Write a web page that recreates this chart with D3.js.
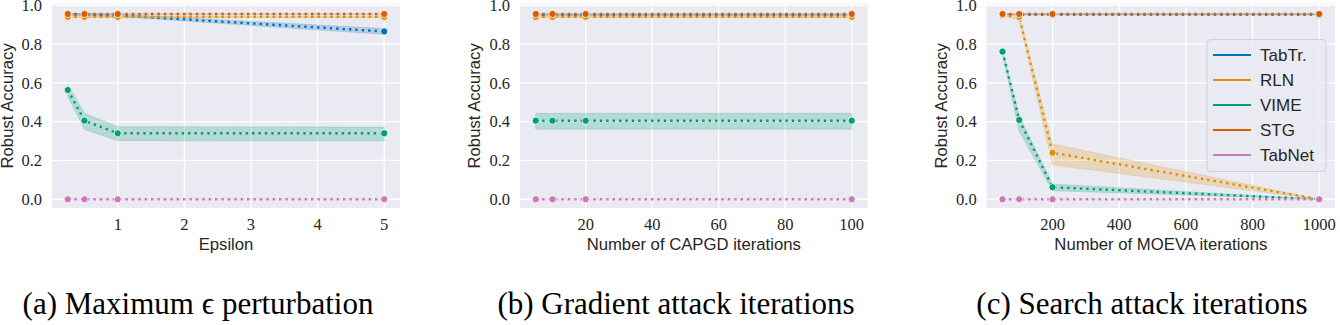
<!DOCTYPE html>
<html>
<head>
<meta charset="utf-8">
<script src="https://cdn.jsdelivr.net/npm/d3@7"></script>
<style>
  body { margin: 0; background: #fff; }
  .tick-label { font-family: "Liberation Serif", serif; font-size: 16.5px; fill: #262626; }
  .axis-label { font-family: "Liberation Sans", sans-serif; font-size: 16.7px; fill: #262626; }
  .caption { font-family: "Liberation Serif", serif; font-size: 31px; fill: #000; }
  .legend-text { font-family: "Liberation Sans", sans-serif; font-size: 17px; fill: #262626; }
</style>
</head>
<body>
<script>
// models and colours (seaborn colorblind)
var models = ["TabTr.", "RLN", "VIME", "STG", "TabNet"];
var colors = ["#0173b2", "#de8f05", "#029e73", "#d55e00", "#cc78bc"];

var yTicks = [0, 0.2, 0.4, 0.6, 0.8, 1.0];

// (a) epsilon
var epsX = [0.25, 0.5, 1, 5];
var epsTicks = [1, 2, 3, 4, 5];
var epsMean = [
  [0.953, 0.952, 0.948, 0.865],
  [0.940, 0.940, 0.940, 0.940],
  [0.563, 0.405, 0.340, 0.340],
  [0.955, 0.955, 0.955, 0.955],
  [0.0, 0.0, 0.0, 0.0]
];
var epsLow = [
  [0.948, 0.946, 0.942, 0.850],
  [0.936, 0.936, 0.936, 0.936],
  [0.530, 0.360, 0.303, 0.300],
  [0.953, 0.953, 0.953, 0.953],
  [0.0, 0.0, 0.0, 0.0]
];
var epsHigh = [
  [0.958, 0.957, 0.954, 0.880],
  [0.944, 0.944, 0.944, 0.944],
  [0.590, 0.443, 0.374, 0.372],
  [0.957, 0.957, 0.957, 0.957],
  [0.0, 0.0, 0.0, 0.0]
];

// (b) CAPGD iterations
var capX = [5, 10, 20, 100];
var capTicks = [20, 40, 60, 80, 100];
var capMean = [
  [0.950, 0.950, 0.950, 0.950],
  [0.940, 0.940, 0.940, 0.940],
  [0.405, 0.405, 0.405, 0.405],
  [0.955, 0.955, 0.955, 0.955],
  [0.0, 0.0, 0.0, 0.0]
];
var capLow = [
  [0.946, 0.946, 0.946, 0.946],
  [0.936, 0.936, 0.936, 0.936],
  [0.361, 0.361, 0.361, 0.361],
  [0.953, 0.953, 0.953, 0.953],
  [0.0, 0.0, 0.0, 0.0]
];
var capHigh = [
  [0.954, 0.954, 0.954, 0.954],
  [0.944, 0.944, 0.944, 0.944],
  [0.443, 0.443, 0.443, 0.443],
  [0.957, 0.957, 0.957, 0.957],
  [0.0, 0.0, 0.0, 0.0]
];

// (c) MOEVA iterations
var moeX = [50, 100, 200, 1000];
var moeTicks = [200, 400, 600, 800, 1000];
var moeMean = [
  [0.952, 0.952, 0.952, 0.952],
  [0.950, 0.940, 0.240, 0.0],
  [0.761, 0.409, 0.062, 0.0],
  [0.955, 0.955, 0.955, 0.955],
  [0.0, 0.0, 0.0, 0.0]
];
var moeLow = [
  [0.950, 0.950, 0.950, 0.950],
  [0.946, 0.925, 0.177, 0.0],
  [0.750, 0.350, 0.044, 0.0],
  [0.953, 0.953, 0.953, 0.953],
  [0.0, 0.0, 0.0, 0.0]
];
var moeHigh = [
  [0.954, 0.954, 0.954, 0.954],
  [0.954, 0.952, 0.285, 0.0],
  [0.772, 0.430, 0.079, 0.0],
  [0.957, 0.957, 0.957, 0.957],
  [0.0, 0.0, 0.0, 0.0]
];

var w = 1340, h = 325;
var plotTop = 3.7, plotBottom = 208;

var panels = [
  { x: epsX, ticks: epsTicks, mean: epsMean, low: epsLow, high: epsHigh,
    left: 52, right: 400, domain: [0.0125, 5.2375], xlabel: "Epsilon",
    ylabelX: 13, caption: "(a) Maximum \u03f5 perturbation", capX: 198 },
  { x: capX, ticks: capTicks, mean: capMean, low: capLow, high: capHigh,
    left: 520, right: 867.5, domain: [0.25, 104.75], xlabel: "Number of CAPGD iterations",
    ylabelX: 480, caption: "(b) Gradient attack iterations", capX: 676 },
  { x: moeX, ticks: moeTicks, mean: moeMean, low: moeLow, high: moeHigh,
    left: 986.7, right: 1335, domain: [2.5, 1047.5], xlabel: "Number of MOEVA iterations",
    ylabelX: 947, caption: "(c) Search attack iterations", capX: 1142, legend: true }
];

var svg = d3.select("body").append("svg").attr("width", w).attr("height", h);

var yScale = d3.scaleLinear().domain([-0.045, 1.008]).range([plotBottom, plotTop]);

panels.forEach(function (p) {
  var xScale = d3.scaleLinear().domain(p.domain).range([p.left, p.right]);
  var g = svg.append("g");

  // background
  g.append("rect")
    .attr("x", p.left).attr("y", plotTop)
    .attr("width", p.right - p.left).attr("height", plotBottom - plotTop)
    .attr("fill", "#eaeaf2");

  // grid
  g.selectAll(".vgrid").data(p.ticks).enter().append("line")
    .attr("x1", function (d) { return xScale(d); })
    .attr("x2", function (d) { return xScale(d); })
    .attr("y1", plotTop).attr("y2", plotBottom)
    .attr("stroke", "#fff").attr("stroke-width", 1.3);
  g.selectAll(".hgrid").data(yTicks).enter().append("line")
    .attr("x1", p.left).attr("x2", p.right)
    .attr("y1", function (d) { return yScale(d); })
    .attr("y2", function (d) { return yScale(d); })
    .attr("stroke", "#fff").attr("stroke-width", 1.3);

  // tick labels
  g.selectAll(".xt").data(p.ticks).enter().append("text")
    .attr("class", "tick-label")
    .attr("x", function (d) { return xScale(d); })
    .attr("y", 230)
    .attr("text-anchor", "middle")
    .text(function (d) { return d; });
  g.selectAll(".yt").data(yTicks).enter().append("text")
    .attr("class", "tick-label")
    .attr("x", p.left - 10)
    .attr("y", function (d) { return yScale(d); })
    .attr("dy", "0.35em")
    .attr("text-anchor", "end")
    .text(function (d) { return d.toFixed(1); });

  // axis labels
  g.append("text").attr("class", "axis-label")
    .attr("x", (p.left + p.right) / 2).attr("y", 250)
    .attr("text-anchor", "middle").text(p.xlabel);
  g.append("text").attr("class", "axis-label")
    .attr("transform", "translate(" + p.ylabelX + "," + (plotTop + plotBottom) / 2 + ") rotate(-90)")
    .attr("text-anchor", "middle").text("Robust Accuracy");

  // bands
  var area = d3.area()
    .x(function (d) { return xScale(d[0]); })
    .y0(function (d) { return yScale(d[1]); })
    .y1(function (d) { return yScale(d[2]); });
  var line = d3.line()
    .x(function (d) { return xScale(d[0]); })
    .y(function (d) { return yScale(d[1]); });

  models.forEach(function (m, i) {
    var rows = p.x.map(function (xv, j) { return [xv, p.low[i][j], p.high[i][j]]; });
    g.append("path").datum(rows)
      .attr("d", area)
      .attr("fill", colors[i]).attr("fill-opacity", 0.22)
      .attr("stroke", colors[i]).attr("stroke-opacity", 0.22).attr("stroke-width", 0.8);
  });

  models.forEach(function (m, i) {
    var pts = p.x.map(function (xv, j) { return [xv, p.mean[i][j]]; });
    g.append("path").datum(pts)
      .attr("d", line)
      .attr("fill", "none")
      .attr("stroke", colors[i])
      .attr("stroke-width", 2.4)
      .attr("stroke-dasharray", "2.4,4");
    g.selectAll(".pt" + i).data(pts).enter().append("circle")
      .attr("cx", function (d) { return xScale(d[0]); })
      .attr("cy", function (d) { return yScale(d[1]); })
      .attr("r", 3.6)
      .attr("fill", colors[i])
      .attr("stroke", "#fff").attr("stroke-width", 0.8);
  });

  // caption
  svg.append("text").attr("class", "caption")
    .attr("x", p.capX).attr("y", 314)
    .attr("text-anchor", "middle").text(p.caption);

  if (p.legend) {
    var lg = svg.append("g");
    lg.append("rect")
      .attr("x", 1207).attr("y", 39.5)
      .attr("width", 119).attr("height", 132)
      .attr("rx", 4)
      .attr("fill", "#eaeaf2").attr("fill-opacity", 0.8)
      .attr("stroke", "#cfcfd6").attr("stroke-width", 1);
    models.forEach(function (m, i) {
      var yy = 55 + i * 25;
      lg.append("line")
        .attr("x1", 1213).attr("x2", 1251)
        .attr("y1", yy).attr("y2", yy)
        .attr("stroke", colors[i]).attr("stroke-width", 1.8);
      lg.append("text").attr("class", "legend-text")
        .attr("x", 1260).attr("y", yy).attr("dy", "0.35em")
        .text(m);
    });
  }
});
</script>
</body>
</html>
